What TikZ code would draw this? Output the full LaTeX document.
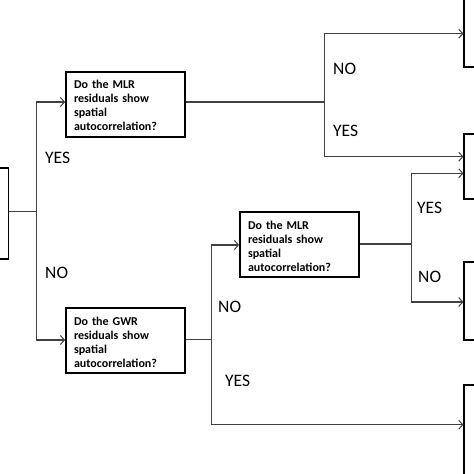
\documentclass[tikz,border=0pt]{standalone}
\usepackage{fontspec}
\setmainfont{Carlito}
\usetikzlibrary{arrows.meta}
\begin{document}
\begin{tikzpicture}[x=1pt,y=-1pt,
  qbox/.style={draw=black,line width=1.8pt,minimum width=118.7pt,minimum height=65pt,
    text width=102.7pt,align=left,inner xsep=8pt,inner ysep=0pt,text height=11pt,
    font=\fontsize{12}{14}\selectfont\bfseries},
  rbox/.style={draw=black,line width=1.8pt,inner sep=0pt},
  conn/.style={draw={black!75},line width=1.1pt},
  arr/.style={conn,-{Straight Barb[length=4pt,width=9pt,line width=1pt]}},
  lbl/.style={inner sep=0pt,anchor=west,font=\fontsize{17.5}{20}\selectfont}]
\clip (0,0) rectangle (474,474);
\useasboundingbox (0,0) rectangle (474,474);
% boxes
\node[rbox,minimum width=30pt,minimum height=90.7pt] (start) at (-6.5,213.65) {};
\node[qbox] (mlr1) at (125.35,104.5) {Do the MLR\\residuals show\\spatial\\autocorrelation?};
\node[qbox] (gwr) at (125.35,340.65) {Do the GWR\\residuals show\\spatial\\autocorrelation?};
\node[qbox] (mlr2) at (299.35,244.8) {Do the MLR\\residuals show\\spatial\\autocorrelation?};
\node[rbox,minimum width=35.7pt,minimum height=86.7pt] (r1) at (482.15,23.35) {};
\node[rbox,minimum width=35.7pt,minimum height=65pt] (r2) at (482.15,166.8) {};
\node[rbox,minimum width=35.7pt,minimum height=78.3pt] (r3) at (482.15,300.85) {};
\node[rbox,minimum width=35.7pt,minimum height=115pt] (r4) at (482.15,442.5) {};
% junctions
\coordinate (j1) at (36.7,211.7);
\coordinate (j2) at (324.7,102);
\coordinate (j3) at (211.3,339.3);
\coordinate (j4) at (411.7,244);
% connectors
\draw[conn] (start.east |- j1) -- (j1);
\draw[arr] (j1) |- (mlr1.west |- 0,102);
\draw[arr] (j1) |- (gwr.west |- 0,340);
\draw[conn] (mlr1.east |- j2) -- (j2);
\draw[arr] (j2) |- (r1.west |- 0,33.7);
\draw[arr] (j2) |- (r2.west |- 0,156.7);
\draw[conn] (gwr.east |- j3) -- (j3);
\draw[arr] (j3) |- (mlr2.west |- 0,245);
\draw[arr] (j3) |- (r4.west |- 0,424.7);
\draw[conn] (mlr2.east |- j4) -- (j4);
\draw[arr] (j4) |- (r2.west |- 0,173.3);
\draw[arr] (j4) |- (r3.west |- 0,302);
% labels
\node[lbl] (l1) at (45,158) {YES};
\node[lbl] (l2) at (45,273) {NO};
\node[lbl] (l3) at (333,69) {NO};
\node[lbl] (l4) at (333,131) {YES};
\node[lbl] (l5) at (218,306.7) {NO};
\node[lbl] (l6) at (225,380.7) {YES};
\node[lbl] (l7) at (417,208) {YES};
\node[lbl] (l8) at (418,277) {NO};
\end{tikzpicture}
\end{document}
